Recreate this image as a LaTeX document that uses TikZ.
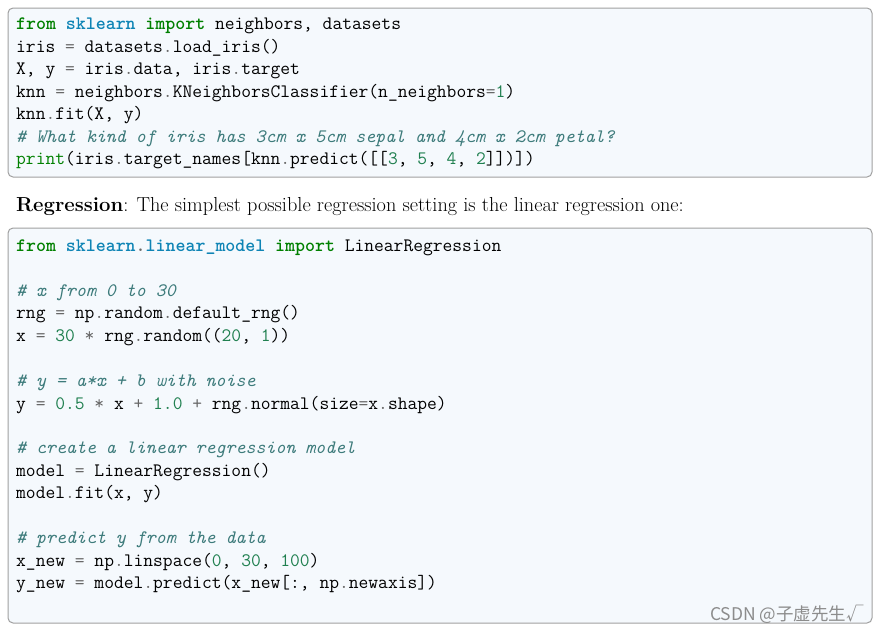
\documentclass[tikz,border=0pt]{standalone}
\usepackage{fontspec}
\newfontfamily\wmfont{Noto Sans CJK SC}
\definecolor{kw}{HTML}{008000}
\definecolor{md}{HTML}{0E84B5}
\definecolor{cm}{HTML}{3D7B7B}
\definecolor{nm}{HTML}{208050}
\definecolor{op}{HTML}{666666}
\definecolor{boxfill}{HTML}{F5F9FD}
\definecolor{boxline}{HTML}{A0A0A0}
\newcommand\Kw[1]{\textcolor{kw}{\bfseries #1}}
\newcommand\Md[1]{\textcolor{md}{\bfseries #1}}
\newcommand\Cm[1]{\textcolor{cm}{\itshape #1}}
\newcommand\Nm[1]{\textcolor{nm}{#1}}
\newcommand\Op[1]{\textcolor{op}{#1}}
\newcommand\Bi[1]{\textcolor{kw}{#1}}
\begin{document}
\begin{tikzpicture}[x=1pt,y=-1pt,
  codebox/.style={draw=boxline,fill=boxfill,rounded corners=5pt,line width=1pt},
  code/.style={anchor=base west,inner sep=0pt,font=\fontsize{19}{22}\selectfont\ttfamily}]
\useasboundingbox (0,0) rectangle (876,633);
\draw[codebox] (8,8) rectangle (872,177);
\draw[codebox] (8,228) rectangle (872,623);
\node[code] (a1) at (16,29) {\Kw{from} \Md{sklearn} \Kw{import} neighbors, datasets};
\node[code] (a2) at (16,52) {iris \Op{=} datasets\Op{.}load\_iris()};
\node[code] (a3) at (16,74) {X, y \Op{=} iris\Op{.}data, iris\Op{.}target};
\node[code] (a4) at (16,97) {knn \Op{=} neighbors\Op{.}KNeighborsClassifier(n\_neighbors\Op{=}\Nm{1})};
\node[code] (a5) at (16,119) {knn\Op{.}fit(X, y)};
\node[code] (a6) at (16,142) {\Cm{\# What kind of iris has 3cm x 5cm sepal and 4cm x 2cm petal?}};
\node[code] (a7) at (16,164) {\Bi{print}(iris\Op{.}target\_names[knn\Op{.}predict([[\Nm{3}, \Nm{5}, \Nm{4}, \Nm{2}]])])};
\node[anchor=base west,inner sep=0pt,font=\fontsize{20.3}{22}\selectfont] (t) at (16,211) {\textbf{Regression}: The simplest possible regression setting is the linear regression one:};
\node[code] (b1) at (16,251) {\Kw{from} \Md{sklearn\Op{.}linear\_model} \Kw{import} LinearRegression};
\node[code] (b2) at (16,296) {\Cm{\# x from 0 to 30}};
\node[code] (b3) at (16,318) {rng \Op{=} np\Op{.}random\Op{.}default\_rng()};
\node[code] (b4) at (16,341) {x \Op{=} \Nm{30} \Op{*} rng\Op{.}random((\Nm{20}, \Nm{1}))};
\node[code] (b5) at (16,386) {\Cm{\# y = a*x + b with noise}};
\node[code] (b6) at (16,409) {y \Op{=} \Nm{0.5} \Op{*} x \Op{+} \Nm{1.0} \Op{+} rng\Op{.}normal(size\Op{=}x\Op{.}shape)};
\node[code] (b7) at (16,453) {\Cm{\# create a linear regression model}};
\node[code] (b8) at (16,476) {model \Op{=} LinearRegression()};
\node[code] (b9) at (16,498) {model\Op{.}fit(x, y)};
\node[code] (b10) at (16,543) {\Cm{\# predict y from the data}};
\node[code] (b11) at (16,566) {x\_new \Op{=} np\Op{.}linspace(\Nm{0}, \Nm{30}, \Nm{100})};
\node[code] (b12) at (16,588) {y\_new \Op{=} model\Op{.}predict(x\_new[:, np\Op{.}newaxis])};
\node[anchor=base east,inner sep=0pt,text=black!45,font=\fontsize{17.5}{18}\selectfont\wmfont] (wm) at (864,620) {CSDN @子虚先生√};
\end{tikzpicture}
\end{document}
